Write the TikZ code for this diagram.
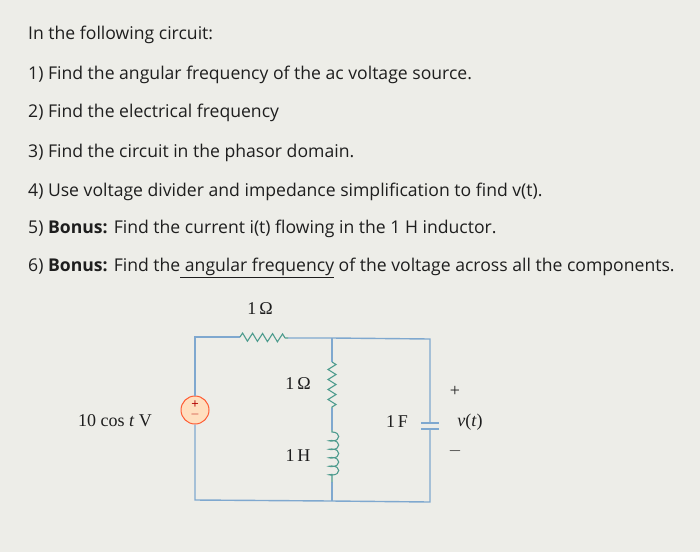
\documentclass[tikz,border=0pt]{standalone}
\usepackage{fontspec}
\setmainfont{Open Sans}
\newfontfamily\serifc{Liberation Serif}
\usetikzlibrary{decorations.pathmorphing}
\definecolor{bg}{HTML}{EDEDE8}
\definecolor{wire}{HTML}{7FA8CF}
\definecolor{res}{HTML}{4E9C8E}
\definecolor{txt}{HTML}{1E1E1E}
\begin{document}
\begin{tikzpicture}[x=1pt,y=-1pt,
  q/.style={anchor=west,font=\fontsize{17.6}{20}\selectfont,text=txt,inner sep=0},
  cl/.style={font=\serifc\fontsize{18}{20}\selectfont,text=txt,inner sep=0},
  w/.style={draw=wire,line width=1.4},
  zz/.style={draw=res,line width=1.1,decorate,decoration={zigzag,segment length=10,amplitude=4}}]
\fill[bg] (0,0) rectangle (700,552);
\useasboundingbox (0,0) rectangle (700,552);
\node[q] (t0) at (28,35) {In the following circuit:};
\node[q] (t1) at (28,75) {1) Find the angular frequency of the ac voltage source.};
\node[q] (t2) at (28,113) {2) Find the electrical frequency};
\node[q] (t3) at (28,153) {3) Find the circuit in the phasor domain.};
\node[q] (t4) at (28,192) {4) Use voltage divider and impedance simplification to find v(t).};
\node[q] (t5) at (28,229) {5) \textbf{Bonus:} Find the current i(t) flowing in the 1 H inductor.};
\node[q] (t6) at (28,268) {6) \textbf{Bonus:} Find the\underline{ angular frequency} of the voltage across all the components.};
% nodes
\coordinate (tl) at (195,337); \coordinate (tr) at (430,339);
\coordinate (bl) at (195,500); \coordinate (br) at (430,502);
\coordinate (tm) at (332,338); \coordinate (bm) at (332,501);
\coordinate (r1a) at (240,337); \coordinate (r1b) at (288,338);
\coordinate (r2a) at (332,362); \coordinate (r2b) at (332,408);
\coordinate (l1a) at (332,430); \coordinate (l1b) at (332,482);
\coordinate (c1a) at (430,423); \coordinate (c1b) at (430,429);
\node[circle,draw=red!60!orange!80,fill=orange!25,line width=1,minimum size=28,inner sep=0,
  font=\fontsize{13}{11}\selectfont,text=red!70!black,align=center] (src) at (195,410) {+\\[-2pt]$-$};
% wires
\draw[w] (src.north) -- (tl) -- (r1a);
\draw[w] (r1b) -- (tm) -- (tr) -- (c1a);
\draw[w] (src.south) -- (bl) -- (bm) -- (br) -- (c1b);
\draw[w] (tm) -- (r2a); \draw[w] (r2b) -- (l1a); \draw[w] (l1b) -- (bm);
\draw[zz] (r1a) -- (r1b);
\draw[zz] (r2a) -- (r2b);
% inductor
\draw[res,line width=1.1] (l1a) -- ++(0,2)
  \foreach \i in {0,...,4}{ .. controls +(9,0) and +(9,0) .. ++(0,9) .. controls +(-4,0) and +(-4,0) .. ++(0,-0.5) } -- (l1b);
% capacitor
\draw[wire,line width=1.4] ([xshift=-9]c1a) -- ([xshift=9]c1a) ([xshift=-9]c1b) -- ([xshift=9]c1b);
% labels
\node[cl] (lr1) at (260,309) {1\,Ω};
\node[cl] (lr2) at (298,384) {1\,Ω};
\node[cl] (ll) at (298,456) {1\,H};
\node[cl] (lc) at (397,422) {1\,F};
\node[cl] (ls) at (115,421) {10 cos \textit{t} V};
\node[cl] (vp) at (455,391) {+};
\node[cl] (vt) at (470,422) {\textit{v}(\textit{t})};
\node[cl] (vm) at (455,451) {$-$};
\end{tikzpicture}
\end{document}
